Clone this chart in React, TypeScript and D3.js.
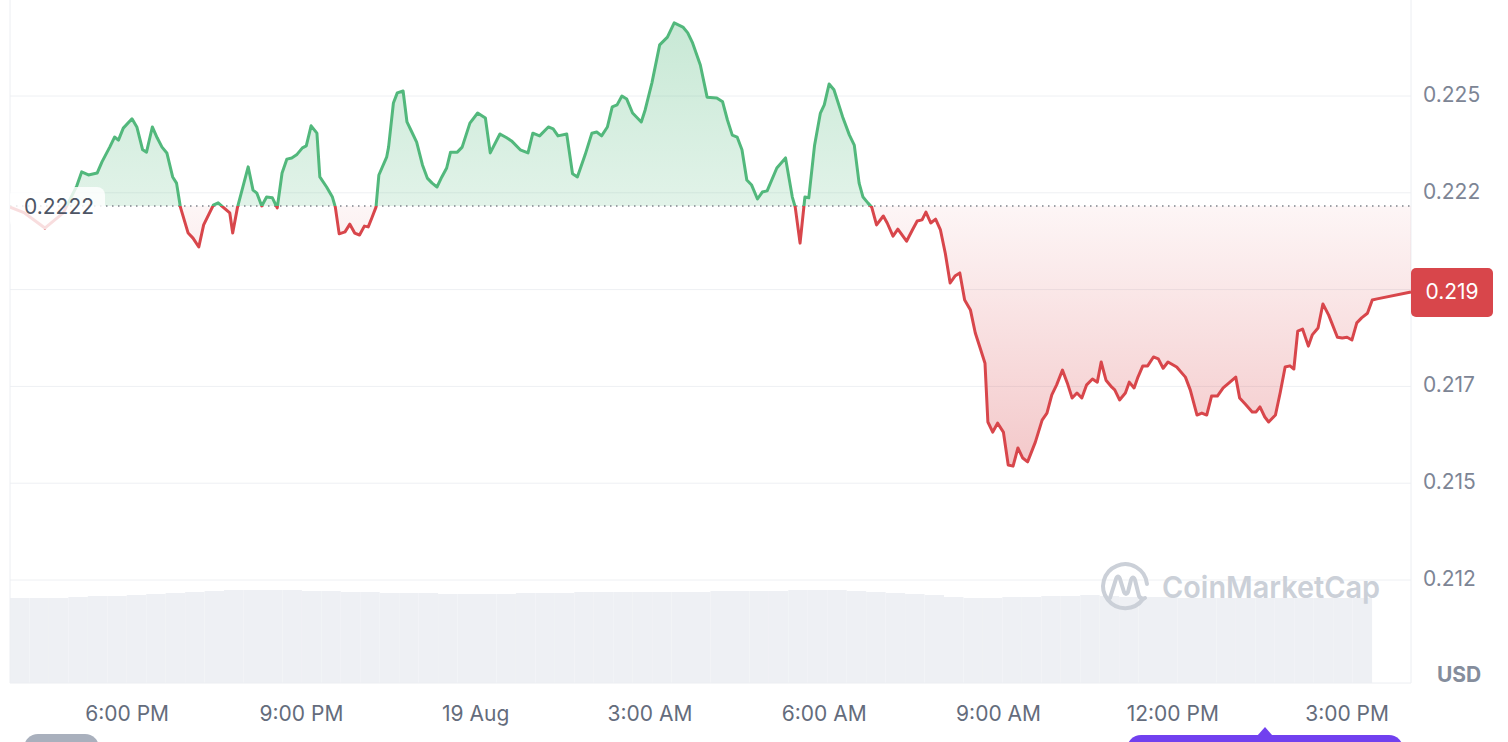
import React from 'react';
import * as d3 from 'd3';

// minutes after 4:00 PM (18 Aug), price in USD
const pricePoints: [number, number][] = [
  [-1, 0.22213], [14, 0.22198], [35, 0.22159], [54, 0.22198], [68, 0.22268], [73, 0.22304], [80, 0.22296],
  [89, 0.22301], [94, 0.2233], [102, 0.22368], [107, 0.22394], [111, 0.22386], [116, 0.22417], [125, 0.22441],
  [130, 0.2242], [136, 0.22361], [140, 0.22355], [146, 0.2242], [151, 0.22392], [156, 0.22368], [161, 0.22353],
  [164, 0.22322], [167, 0.22291], [171, 0.22275], [175, 0.22213], [183, 0.22146], [188, 0.22133], [194, 0.2211],
  [199, 0.22167], [209, 0.22218], [214, 0.22224], [219, 0.22213], [226, 0.22198], [229, 0.22146], [234, 0.22213],
  [245, 0.22317], [250, 0.22257], [254, 0.22249], [259, 0.22216], [264, 0.22239], [270, 0.22237], [275, 0.22211],
  [280, 0.22301], [285, 0.22337], [290, 0.2234], [295, 0.22348], [301, 0.22366], [305, 0.22371], [310, 0.22423],
  [316, 0.22404], [319, 0.22291], [326, 0.22265], [332, 0.22239], [335, 0.22213], [339, 0.22144], [345, 0.22149],
  [350, 0.22169], [355, 0.22146], [360, 0.22141], [365, 0.22164], [369, 0.22162], [373, 0.22187], [377, 0.22213],
  [380, 0.22296], [388, 0.22342], [390, 0.22368], [395, 0.22482], [399, 0.22508], [405, 0.22513], [409, 0.22433],
  [414, 0.22407], [419, 0.22381], [425, 0.22322], [430, 0.22288], [435, 0.22275], [440, 0.22265], [445, 0.22291],
  [450, 0.22314], [454, 0.22355], [461, 0.22355], [466, 0.22368], [474, 0.2243], [482, 0.22456], [490, 0.22443],
  [495, 0.22353], [505, 0.22402], [512, 0.22392], [517, 0.22384], [526, 0.22361], [534, 0.22353], [539, 0.22404],
  [546, 0.22397], [555, 0.2242], [560, 0.22415], [565, 0.22397], [574, 0.22402], [580, 0.22299], [585, 0.22291],
  [593, 0.22348], [600, 0.22404], [605, 0.22407], [610, 0.22397], [616, 0.2242], [621, 0.22472], [626, 0.22477],
  [631, 0.225], [636, 0.22492], [642, 0.22456], [651, 0.22433], [655, 0.22464], [662, 0.22534], [670, 0.22632],
  [678, 0.22652], [685, 0.22689], [694, 0.22678], [699, 0.22663], [704, 0.22637], [712, 0.2258], [719, 0.22497],
  [729, 0.22495], [735, 0.22485], [740, 0.22438], [745, 0.22399], [750, 0.22394], [755, 0.22361], [760, 0.22283],
  [765, 0.2227], [771, 0.22234], [776, 0.22252], [781, 0.22255], [791, 0.22314], [800, 0.2234], [807, 0.22239],
  [810, 0.22213], [815, 0.2212], [820, 0.22239], [824, 0.22237], [830, 0.22373], [836, 0.22456], [840, 0.22477],
  [845, 0.22531], [850, 0.22516], [854, 0.22485], [859, 0.22446], [866, 0.22399], [871, 0.22373], [876, 0.22275],
  [880, 0.22239], [885, 0.22224], [889, 0.22213], [894, 0.22167], [901, 0.2219], [905, 0.22172], [911, 0.22138],
  [916, 0.22156], [925, 0.22125], [931, 0.22154], [936, 0.22177], [941, 0.2218], [945, 0.222], [950, 0.22172],
  [955, 0.22182], [960, 0.22154], [965, 0.22094], [970, 0.22017], [975, 0.22035], [980, 0.22043], [985, 0.21973],
  [991, 0.21947], [996, 0.21888], [1001, 0.21849], [1006, 0.2181], [1009, 0.21658], [1014, 0.21632], [1019, 0.21655],
  [1025, 0.21632], [1030, 0.21547], [1035, 0.21544], [1040, 0.21591], [1045, 0.21565], [1050, 0.21555], [1058, 0.21606],
  [1065, 0.21663], [1070, 0.21681], [1075, 0.21728], [1080, 0.21754], [1086, 0.21792], [1091, 0.21759], [1096, 0.2172],
  [1101, 0.21733], [1106, 0.2172], [1111, 0.21754], [1117, 0.21769], [1122, 0.21761], [1126, 0.21813], [1131, 0.21766],
  [1137, 0.21748], [1140, 0.21741], [1145, 0.21715], [1151, 0.21733], [1155, 0.21761], [1160, 0.21746], [1164, 0.21774],
  [1169, 0.21803], [1174, 0.21803], [1180, 0.21826], [1185, 0.21821], [1190, 0.21797], [1195, 0.21813], [1204, 0.218],
  [1213, 0.21774], [1218, 0.21741], [1225, 0.21676], [1230, 0.21681], [1235, 0.21676], [1240, 0.21725], [1246, 0.21725],
  [1252, 0.21746], [1259, 0.21761], [1265, 0.21774], [1269, 0.2172], [1275, 0.21704], [1282, 0.21684], [1286, 0.21684],
  [1290, 0.21697], [1295, 0.21671], [1299, 0.21658], [1306, 0.21676], [1311, 0.21735], [1316, 0.218], [1321, 0.21803],
  [1325, 0.21795], [1329, 0.21893], [1334, 0.21898], [1340, 0.21854], [1344, 0.21883], [1350, 0.21901], [1355, 0.21963],
  [1361, 0.21934], [1370, 0.21877], [1375, 0.21875], [1380, 0.21877], [1385, 0.2187], [1390, 0.21914], [1395, 0.21927],
  [1401, 0.21939], [1406, 0.21973], [1411, 0.21976], [1446, 0.21994],
];

// 20-minute volume buckets (relative units)
const volumes = [
  85, 85, 85, 86, 87, 87, 88, 89, 90, 91, 92, 93, 93, 93, 93, 92, 92, 91, 91, 90, 90, 90, 89, 89,
  89, 89, 90, 90, 90, 91, 91, 91, 91, 91, 91, 91, 92, 92, 92, 92, 93, 93, 93, 92, 91, 90, 89, 88,
  86, 85, 85, 86, 86, 87, 87, 88, 87, 86, 86, 86, 85, 85, 85, 85, 85, 85, 85, 85, 85, 85, 0, 0,
];

const openPrice = 0.22216;
const yTicks = [0.2125, 0.215, 0.2175, 0.22, 0.2225, 0.225];
const xTickMinutes = [120, 300, 480, 660, 840, 1020, 1200, 1380];
const xTickLabels = ['6:00 PM', '9:00 PM', '19 Aug', '3:00 AM', '6:00 AM', '9:00 AM', '12:00 PM', '3:00 PM'];

const W = 1508;
const H = 742;
const left = 10;
const right = 1411;
const bottom = 683;

const GREEN = '#52b87c';
const RED = '#d8464b';
const FONT = 'Inter, "Noto Sans", sans-serif';

const fmt3 = (v: number) => (Math.floor(v * 1000 + 1e-6) / 1000).toFixed(3);

export default function App() {
  const x = d3.scaleLinear().domain([-1, 1446]).range([left, right]);
  const y = d3.scaleLinear().domain([0.2125, 0.225]).range([580, 96]);
  const yVol = d3.scaleLinear().domain([0, 100]).range([bottom, 583]);
  const xVol = d3.scaleBand<number>().domain(volumes.map((_, i) => i)).range([left, right]).padding(0);

  const baseY = y(openPrice);
  const last = pricePoints[pricePoints.length - 1];
  const lastY = y(last[1]);

  const line = d3.line<[number, number]>().x(d => x(d[0])).y(d => y(d[1]));
  const area = d3.area<[number, number]>().x(d => x(d[0])).y0(baseY).y1(d => y(d[1]));

  const linePath = line(pricePoints) || '';
  const areaPath = area(pricePoints) || '';

  return (
    <>
      <style>{`body{margin:0;background:#fff}`}</style>
      <svg width={W} height={H} style={{ display: 'block', fontFamily: FONT }}>
        <defs>
          <clipPath id="above">
            <rect x={left} y={0} width={right - left + 2} height={baseY} />
          </clipPath>
          <clipPath id="below">
            <rect x={left} y={baseY} width={right - left + 2} height={bottom - baseY} />
          </clipPath>
          <linearGradient id="greenFill" gradientUnits="userSpaceOnUse" x1="0" y1="20" x2="0" y2={baseY}>
            <stop offset="0" stopColor={GREEN} stopOpacity={0.32} />
            <stop offset="1" stopColor={GREEN} stopOpacity={0.17} />
          </linearGradient>
          <linearGradient id="redFill" gradientUnits="userSpaceOnUse" x1="0" y1={baseY} x2="0" y2="470">
            <stop offset="0" stopColor={RED} stopOpacity={0.05} />
            <stop offset="1" stopColor={RED} stopOpacity={0.3} />
          </linearGradient>
        </defs>

        {/* grid */}
        {yTicks.map(t => (
          <line key={t} x1={left} x2={right} y1={y(t)} y2={y(t)} stroke="#eef0f3" strokeWidth={1} />
        ))}

        {/* volume */}
        {volumes.map((v, i) => (
          <rect
            key={i}
            x={xVol(i)}
            y={yVol(v)}
            width={xVol.bandwidth()}
            height={bottom - yVol(v)}
            fill="#eef0f4"
          />
        ))}

        {/* frame */}
        <line x1={left} x2={left} y1={0} y2={bottom} stroke="#eceef2" />
        <line x1={right} x2={right} y1={0} y2={bottom} stroke="#eceef2" />
        <line x1={left} x2={right} y1={bottom} y2={bottom} stroke="#eceef2" />

        {/* watermark */}
        <g fill="none" stroke="#cbd0d8" strokeWidth={4} strokeLinecap="round" strokeLinejoin="round">
          <path d="M1143,599 A22,22 0 1 1 1147,584" />
          <path d="M1110,598 L1116,579 Q1118,574 1120,579 L1124,592 Q1126,596 1128,592 L1131,580 Q1133,575 1135,580 L1139,596 Q1141,600 1145,598" />
        </g>
        <text x={1162} y={598} fontSize={30} fontWeight={600} fill="#cbd0d8" textLength={218} lengthAdjust="spacingAndGlyphs">
          CoinMarketCap
        </text>

        {/* fills */}
        <path d={areaPath} fill="url(#greenFill)" clipPath="url(#above)" />
        <path d={areaPath} fill="url(#redFill)" clipPath="url(#below)" />

        {/* baseline */}
        <line x1={left} x2={right} y1={baseY} y2={baseY} stroke="#7d828b" strokeWidth={1.5} strokeDasharray="1.5 4.5" />

        {/* price line */}
        <path d={linePath} fill="none" stroke={GREEN} strokeWidth={3} strokeLinejoin="round" clipPath="url(#above)" />
        <path d={linePath} fill="none" stroke={RED} strokeWidth={3} strokeLinejoin="round" clipPath="url(#below)" />

        {/* open price label */}
        <rect x={left} y={187} width={95} height={42} rx={8} fill="#fff" fillOpacity={0.82} />
        <text x={24} y={baseY + 2} fontSize={21} fill="#4d5565" dominantBaseline="middle">
          {openPrice.toFixed(4)}
        </text>

        {/* y axis */}
        {yTicks
          .filter(t => Math.abs(y(t) - lastY) > 24)
          .map(t => (
            <text key={t} x={1423} y={y(t)} fontSize={21} fill="#7d8595" dominantBaseline="middle">
              {fmt3(t)}
            </text>
          ))}
        <text x={1437} y={676} fontSize={21} fontWeight={700} fill="#858d9c" dominantBaseline="middle">
          USD
        </text>

        {/* current price tag */}
        <rect x={right} y={lastY - 24} width={82} height={49} rx={5} fill={RED} />
        <text x={right + 41} y={lastY + 1} fontSize={21} fill="#fff" textAnchor="middle" dominantBaseline="middle">
          {fmt3(last[1])}
        </text>

        {/* x axis */}
        {xTickMinutes.map((m, i) => (
          <text key={m} x={x(m)} y={715} fontSize={21} fill="#646c7c" textAnchor="middle" dominantBaseline="middle">
            {xTickLabels[i]}
          </text>
        ))}

        {/* bottom controls peeking in */}
        <rect x={24} y={734} width={75} height={30} rx={14} fill="#a9b0bd" />
        <rect x={1127} y={735} width={276} height={30} rx={14} fill="#7140ef" />
        <path d="M1257,736 L1265,727 L1273,736 Z" fill="#7140ef" />
      </svg>
    </>
  );
}
